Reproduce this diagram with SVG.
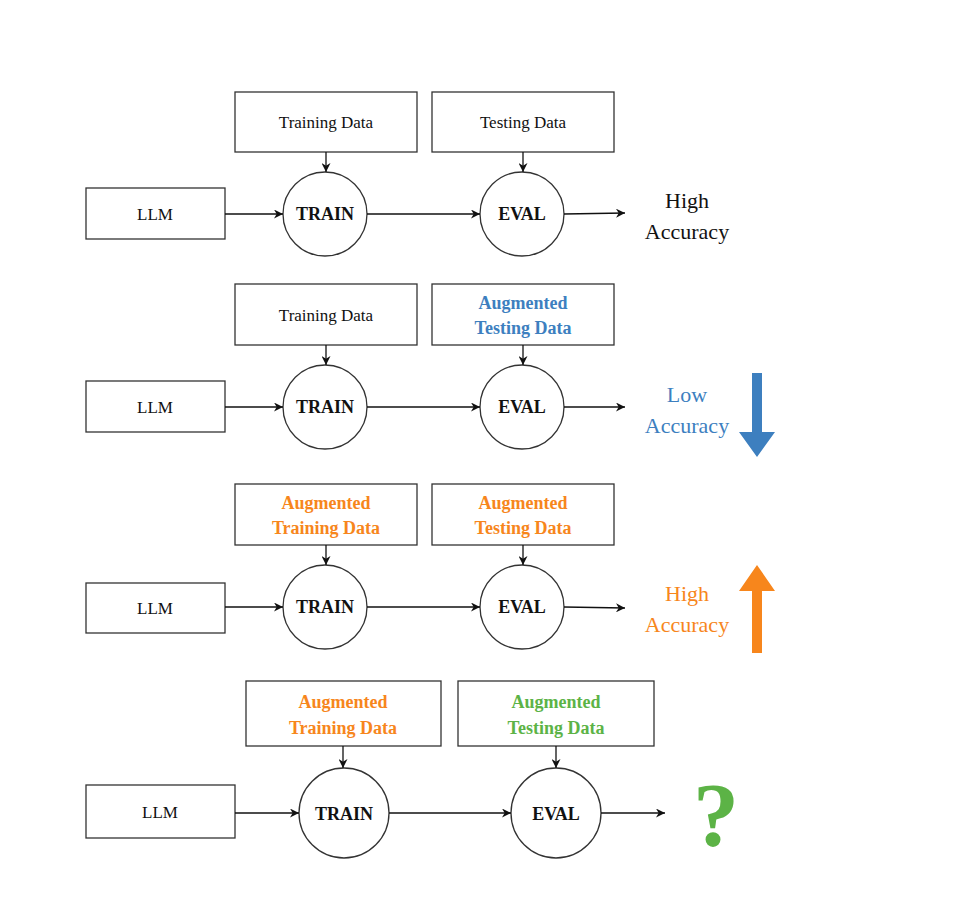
<svg xmlns="http://www.w3.org/2000/svg" width="969" height="911" viewBox="0 0 969 911">
<style>
.b{fill:#fff;stroke:#333;stroke-width:1.3}
.t{font-family:"Liberation Serif",serif;font-size:17px;text-anchor:middle;fill:#111}
.c{font-family:"Liberation Serif",serif;font-size:18px;font-weight:bold;text-anchor:middle;fill:#111}
.a{font-family:"Liberation Serif",serif;font-size:18px;font-weight:bold;text-anchor:middle}
.r{font-family:"Liberation Serif",serif;font-size:22px;text-anchor:middle}
.l{stroke:#111;stroke-width:1.3;fill:none;marker-end:url(#m)}
.bl{fill:#3d7fbf}.or{fill:#f7861c}.gr{fill:#5cb346}
</style>
<defs><marker id="m" viewBox="0 0 10 10" refX="10" refY="5" markerWidth="9" markerHeight="9" markerUnits="userSpaceOnUse" orient="auto"><path d="M0,0L10,5L0,10L3,5z" fill="#111"/></marker></defs>
<rect width="969" height="911" fill="#fff"/>
<g id="row1">
<g id="td1"><rect class="b" x="235" y="92" width="182" height="60"/><text class="t" x="326" y="128">Training Data</text></g>
<g id="ts1"><rect class="b" x="432" y="92" width="182" height="60"/><text class="t" x="523" y="128">Testing Data</text></g>
<g id="llm1"><rect class="b" x="86" y="188" width="139" height="51"/><text class="t" x="155" y="220">LLM</text></g>
<g id="tr1"><circle class="b" cx="325" cy="214" r="42"/><text class="c" x="325" y="220">TRAIN</text></g>
<g id="ev1"><circle class="b" cx="522" cy="214" r="42"/><text class="c" x="522" y="220">EVAL</text></g>
<g id="res1"><text class="r" x="687" y="208" fill="#111">High</text><text class="r" x="687" y="239" fill="#111">Accuracy</text></g>
</g>
<g id="row2">
<g id="td2"><rect class="b" x="235" y="284" width="182" height="61"/><text class="t" x="326" y="321">Training Data</text></g>
<g id="ts2"><rect class="b" x="432" y="284" width="182" height="61"/><text class="a bl" x="523" y="309">Augmented</text><text class="a bl" x="523" y="334">Testing Data</text></g>
<g id="llm2"><rect class="b" x="86" y="381" width="139" height="51"/><text class="t" x="155" y="413">LLM</text></g>
<g id="tr2"><circle class="b" cx="325" cy="407" r="42"/><text class="c" x="325" y="413">TRAIN</text></g>
<g id="ev2"><circle class="b" cx="522" cy="407" r="42"/><text class="c" x="522" y="413">EVAL</text></g>
<g id="res2"><text class="r bl" x="687" y="402">Low</text><text class="r bl" x="687" y="433">Accuracy</text>
<path class="bl" d="M752,373H762V432H775L757,457L739,432H752z"/></g>
</g>
<g id="row3">
<g id="td3"><rect class="b" x="235" y="484" width="182" height="61"/><text class="a or" x="326" y="509">Augmented</text><text class="a or" x="326" y="534">Training Data</text></g>
<g id="ts3"><rect class="b" x="432" y="484" width="182" height="61"/><text class="a or" x="523" y="509">Augmented</text><text class="a or" x="523" y="534">Testing Data</text></g>
<g id="llm3"><rect class="b" x="86" y="583" width="139" height="50"/><text class="t" x="155" y="614">LLM</text></g>
<g id="tr3"><circle class="b" cx="325" cy="607" r="42"/><text class="c" x="325" y="613">TRAIN</text></g>
<g id="ev3"><circle class="b" cx="522" cy="607" r="42"/><text class="c" x="522" y="613">EVAL</text></g>
<g id="res3"><text class="r or" x="687" y="601">High</text><text class="r or" x="687" y="632">Accuracy</text>
<path class="or" d="M752,653H762V591H775L757,565L739,591H752z"/></g>
</g>
<g id="row4">
<g id="td4"><rect class="b" x="246" y="681" width="195" height="65"/><text class="a or" x="343" y="708">Augmented</text><text class="a or" x="343" y="734">Training Data</text></g>
<g id="ts4"><rect class="b" x="458" y="681" width="196" height="65"/><text class="a gr" x="556" y="708">Augmented</text><text class="a gr" x="556" y="734">Testing Data</text></g>
<g id="llm4"><rect class="b" x="86" y="785" width="149" height="53"/><text class="t" x="160" y="818">LLM</text></g>
<g id="tr4"><circle class="b" cx="344" cy="813" r="45"/><text class="c" x="344" y="820">TRAIN</text></g>
<g id="ev4"><circle class="b" cx="556" cy="813" r="45"/><text class="c" x="556" y="820">EVAL</text></g>
<g id="res4"><text class="gr" x="716" y="846" font-family="Liberation Serif,serif" font-size="92" font-weight="bold" text-anchor="middle">?</text></g>
</g>
<g id="connectors">
<path class="l" d="M225,214H283"/><path class="l" d="M367,214H480"/><path class="l" d="M564,214L625,213"/>
<path class="l" d="M326,152V172"/><path class="l" d="M523,152V172"/>
<path class="l" d="M225,407H283"/><path class="l" d="M367,407H480"/><path class="l" d="M564,407H625"/>
<path class="l" d="M326,345V365"/><path class="l" d="M523,345V365"/>
<path class="l" d="M225,607H283"/><path class="l" d="M367,607H480"/><path class="l" d="M564,607L625,608"/>
<path class="l" d="M326,545V565"/><path class="l" d="M523,545V565"/>
<path class="l" d="M235,813H299"/><path class="l" d="M389,813H511"/><path class="l" d="M601,813H665"/>
<path class="l" d="M343,746V768"/><path class="l" d="M556,746V768"/>
</g>
</svg>
